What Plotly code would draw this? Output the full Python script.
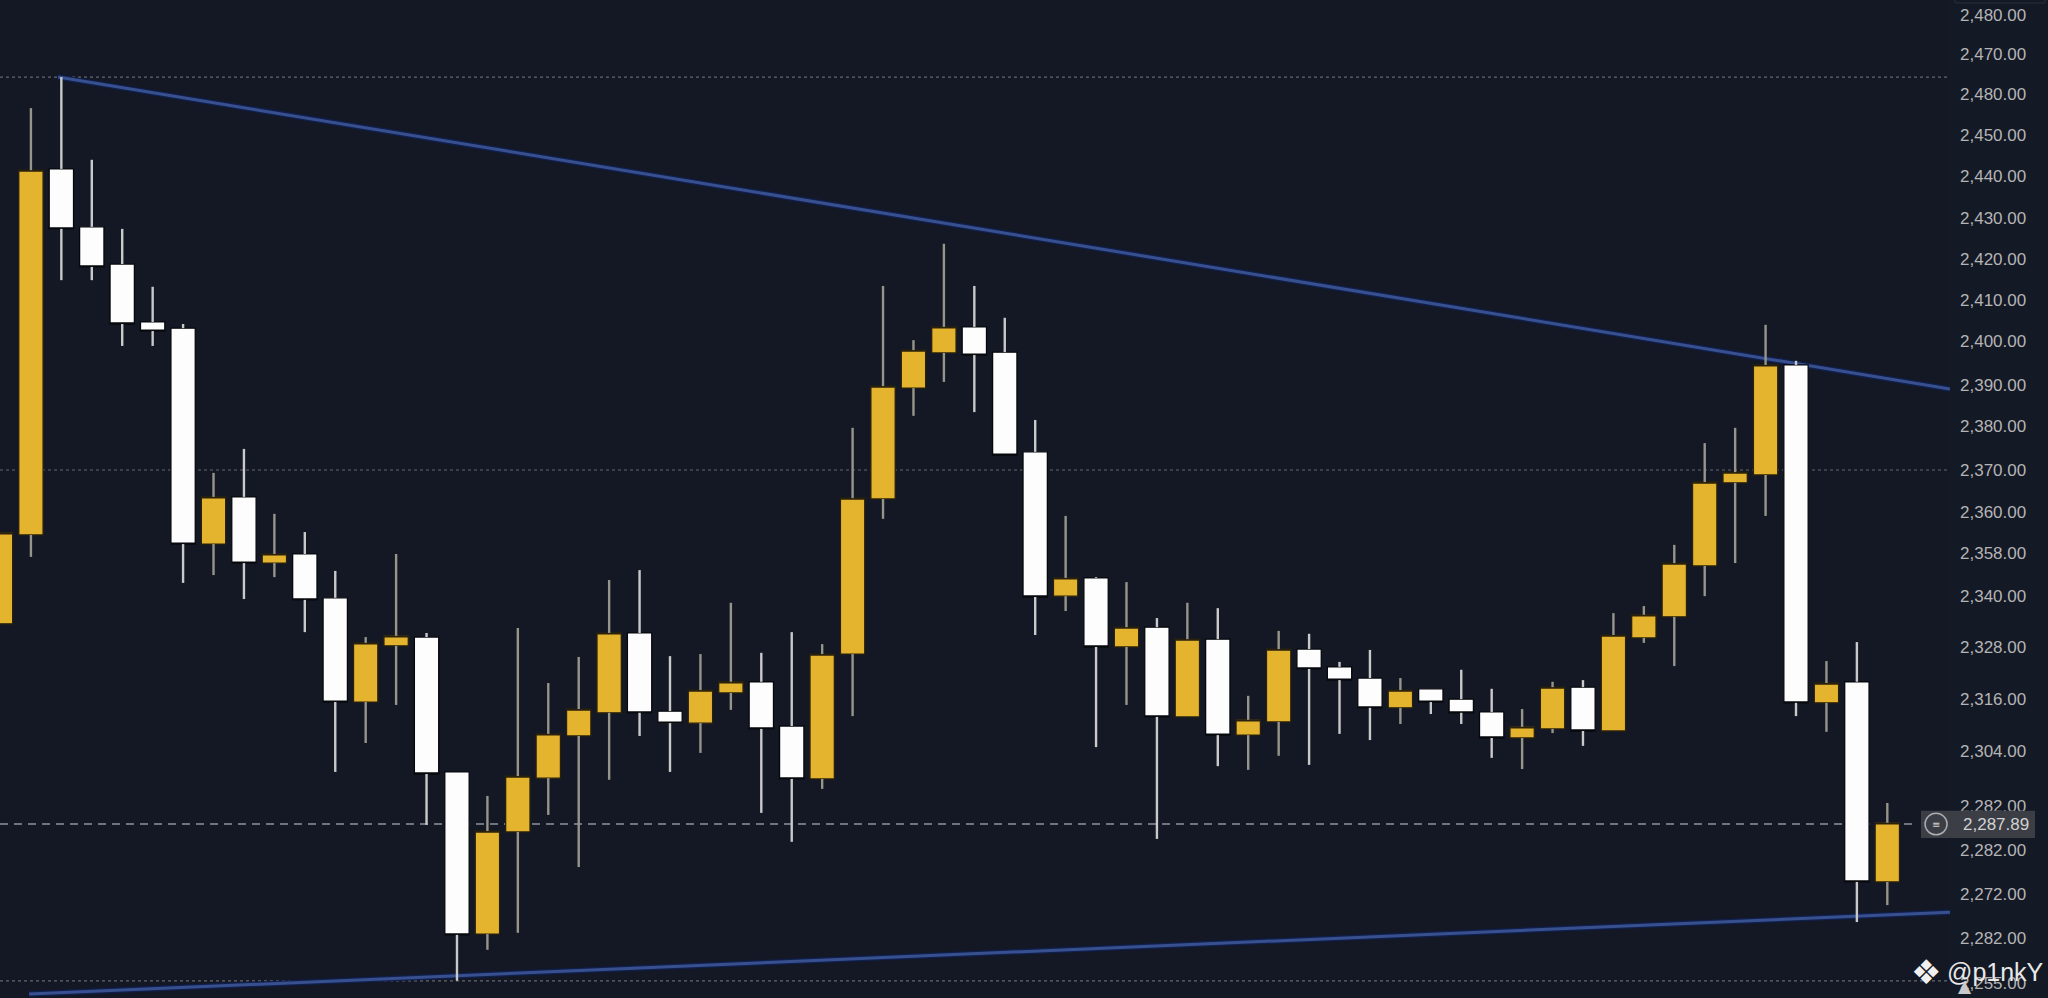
import plotly.graph_objects as go

# candles, oldest first
opens = [2332.8, 2354.3, 2442.8, 2428.8, 2419.8, 2405.8, 2404.3, 2352.1, 2363.5, 2347.5,
         2349.7, 2339.1, 2313.9, 2327.5, 2329.6, 2297.0, 2257.8, 2282.5, 2295.5, 2305.7,
         2311.3, 2330.6, 2311.7, 2308.8, 2316.1, 2318.8, 2308.1, 2295.3, 2325.5, 2363.0,
         2389.8, 2398.3, 2404.6, 2398.5, 2374.4, 2339.5, 2343.9, 2327.2, 2332.0, 2310.3,
         2329.1, 2305.9, 2309.1, 2326.7, 2322.4, 2319.7, 2312.5, 2317.1, 2314.6, 2311.5,
         2305.2, 2307.4, 2317.5, 2306.9, 2329.4, 2334.5, 2346.8, 2366.9, 2368.8, 2395.4,
         2313.7, 2318.8, 2270.4]
highs = [2354.8, 2457.5, 2465.0, 2445.0, 2428.3, 2414.3, 2405.3, 2369.3, 2375.1, 2359.4,
         2355.0, 2345.6, 2329.6, 2349.7, 2330.6, 2297.0, 2291.2, 2331.8, 2318.5, 2324.8,
         2343.4, 2345.8, 2325.0, 2325.5, 2337.9, 2325.8, 2330.8, 2327.9, 2380.2, 2414.5,
         2401.4, 2424.7, 2414.5, 2406.8, 2382.1, 2358.9, 2344.1, 2342.9, 2334.2, 2337.9,
         2336.6, 2315.4, 2331.1, 2330.4, 2323.6, 2326.5, 2319.7, 2317.1, 2321.7, 2317.1,
         2312.2, 2318.8, 2319.2, 2335.4, 2337.1, 2351.9, 2376.5, 2380.2, 2405.1, 2396.4,
         2323.8, 2328.4, 2289.5]
lows = [2332.8, 2349.0, 2415.9, 2415.9, 2400.0, 2400.0, 2342.7, 2344.6, 2338.8, 2344.1,
        2330.8, 2297.0, 2304.0, 2313.2, 2284.2, 2246.5, 2254.0, 2258.1, 2286.6, 2274.0,
        2295.1, 2305.7, 2297.0, 2301.6, 2312.0, 2287.1, 2280.1, 2292.9, 2310.5, 2358.2,
        2383.1, 2391.3, 2384.0, 2373.6, 2330.1, 2335.9, 2303.0, 2313.2, 2280.8, 2310.3,
        2298.4, 2297.5, 2300.9, 2298.7, 2306.2, 2304.7, 2308.6, 2311.0, 2308.6, 2300.4,
        2297.7, 2306.4, 2303.3, 2306.9, 2328.2, 2322.6, 2339.5, 2347.5, 2358.9, 2310.5,
        2306.7, 2260.7, 2264.8]
closes = [2354.8, 2442.5, 2428.3, 2419.1, 2405.3, 2403.6, 2352.1, 2363.5, 2347.5, 2349.7,
          2338.6, 2313.9, 2328.2, 2329.9, 2296.5, 2257.6, 2282.7, 2296.0, 2306.2, 2312.2,
          2330.6, 2311.3, 2308.8, 2316.8, 2318.8, 2307.4, 2295.3, 2325.5, 2363.2, 2390.3,
          2399.0, 2404.6, 2397.8, 2373.6, 2339.3, 2343.9, 2327.2, 2332.0, 2310.3, 2329.1,
          2305.9, 2309.6, 2326.7, 2321.9, 2319.2, 2312.5, 2316.8, 2313.9, 2311.3, 2305.2,
          2307.9, 2317.5, 2306.9, 2330.1, 2335.0, 2347.5, 2367.1, 2369.5, 2395.4, 2313.7,
          2318.5, 2270.4, 2284.7]
candle_x = list(range(len(opens)))

# trend lines
upper_x = [1.89, 64.06]
upper_y = [2465.0, 2389.6]
lower_x = [0.94, 64.06]
lower_y = [2243.3, 2263.1]

level_prices = [2465.0, 2370.0, 2246.5]
last_price_y = 2284.4
last_price_label = "2,287.89"

# the labels on the source axis are not evenly spaced, so positions and text are separate
tick_vals = [2480.0, 2470.6, 2460.9, 2451.0, 2441.1, 2430.9, 2421.0, 2411.1, 2401.2, 2390.6,
             2380.6, 2370.0, 2359.9, 2349.9, 2339.5, 2327.2, 2314.6, 2302.1, 2288.8, 2278.1,
             2267.5, 2256.9, 2246.0]
tick_text = ["2,480.00", "2,470.00", "2,480.00", "2,450.00", "2,440.00", "2,430.00", "2,420.00",
             "2,410.00", "2,400.00", "2,390.00", "2,380.00", "2,370.00", "2,360.00", "2,358.00",
             "2,340.00", "2,328.00", "2,316.00", "2,304.00", "2,282.00", "2,282.00", "2,272.00",
             "2,282.00", "2,255.00"]

BG = "#131824"
GOLD = "#e5b42e"
WHITE = "#fdfdfd"
BLUE = "#39508f"

body_top = [max(o, c) for o, c in zip(opens, closes)]
body_low = [min(o, c) for o, c in zip(opens, closes)]


# scatter draws above candlesticks, so wicks stop at the body edges
def wick_segments(up):
    xs, ys = [], []
    for i in candle_x:
        if (closes[i] > opens[i]) == up:
            xs += [i, i, None, i, i, None]
            ys += [highs[i], body_top[i], None, body_low[i], lows[i], None]
    return xs, ys


fig = go.Figure()

# wicks
gold_x, gold_y = wick_segments(True)
white_x, white_y = wick_segments(False)
fig.add_trace(go.Scatter(x=gold_x, y=gold_y, mode="lines", line=dict(color="#97948a", width=2.4)))
fig.add_trace(go.Scatter(x=white_x, y=white_y, mode="lines", line=dict(color="#c9c9c9", width=2.4)))

# bodies
fig.add_trace(go.Candlestick(
    x=candle_x, open=opens, high=body_top, low=body_low, close=closes,
    increasing=dict(line=dict(color="#2a210c", width=1.3), fillcolor=GOLD),
    decreasing=dict(line=dict(color="#07080c", width=1.3), fillcolor=WHITE),
))

for p in level_prices:
    fig.add_shape(type="line", xref="paper", x0=0, x1=1, yref="y", y0=p, y1=p, layer="below",
                  line=dict(color="#66676c", width=1.2, dash="dot"))
fig.add_shape(type="line", xref="paper", x0=0, x1=0.982, yref="y", y0=last_price_y, y1=last_price_y,
              layer="below", line=dict(color="#8f9298", width=1.5, dash="8px,6px"))

# trend lines as shapes so the candles stay on top of them
for xs, ys in [(upper_x, upper_y), (lower_x, lower_y)]:
    fig.add_shape(type="line", xref="x", yref="y", x0=xs[0], x1=xs[1], y0=ys[0], y1=ys[1],
                  layer="below", line=dict(color="#0f2050", width=5.5))
    fig.add_shape(type="line", xref="x", yref="y", x0=xs[0], x1=xs[1], y0=ys[0], y1=ys[1],
                  layer="below", line=dict(color=BLUE, width=3))

# box at the very top of the price scale
fig.add_shape(type="rect", xref="paper", x0=1.0026, x1=1.0487, yref="paper", y0=0.997, y1=1.01,
              line=dict(color="#2a2f3b", width=1), layer="above")

# last price badge
fig.add_shape(type="rect", xref="paper", x0=0.9851, x1=1.0436, yref="y", y0=2281.0, y1=2287.6,
              fillcolor="#3b3e45", line=dict(width=0), layer="above")
fig.add_shape(type="circle", xref="paper", x0=0.9872, x1=0.9985, yref="y", y0=2281.8, y1=2287.0,
              line=dict(color="#a9abaf", width=1.5), layer="above")
fig.add_annotation(xref="paper", x=0.9928, xanchor="center", yref="y", y=last_price_y, yanchor="middle",
                   text="≡", showarrow=False, font=dict(family="DejaVu Sans", size=10, color="#d0d0d0"))
fig.add_annotation(xref="paper", x=1.0056, xanchor="left", yref="y", y=last_price_y, yanchor="middle",
                   text=last_price_label, showarrow=False,
                   font=dict(family="Liberation Sans", size=17, color="#d2d2d2"))

# watermark
fig.add_annotation(xref="paper", x=0.9875, xanchor="center", yref="paper", y=0.0265, yanchor="middle",
                   text="❖", showarrow=False, font=dict(family="DejaVu Sans", size=34, color="#f0f0f0"))
fig.add_annotation(xref="paper", x=0.9974, xanchor="left", yref="paper", y=0.0265, yanchor="middle",
                   text="@p1nkY", showarrow=False, font=dict(family="Liberation Sans", size=25, color="#e8e8e8"))
fig.add_annotation(xref="paper", x=1.0077, xanchor="center", yref="paper", y=0, yanchor="bottom",
                   text="▲", showarrow=False, font=dict(family="DejaVu Sans", size=17, color="#c9c9c9"))

fig.update_layout(
    width=2048,
    height=998,
    margin=dict(l=0, r=98, t=0, b=0),
    paper_bgcolor="#141926",
    plot_bgcolor=BG,
    showlegend=False,
    boxgap=0.2,
    boxgroupgap=0,
    hovermode=False,
    xaxis=dict(range=[-0.016, 64.06], showgrid=False, zeroline=False, showticklabels=False,
               rangeslider=dict(visible=False)),
    yaxis=dict(range=[2242.34, 2483.64], side="right", showgrid=False, zeroline=False,
               tickmode="array", tickvals=tick_vals, ticktext=tick_text, ticks="",
               ticklabelstandoff=9, tickfont=dict(family="Liberation Sans", size=17, color="#b4b4b4")),
)

fig.write_html("out.html", config=dict(displayModeBar=False),
               post_script="document.body.style.margin='0';document.body.style.background='#141926';")
